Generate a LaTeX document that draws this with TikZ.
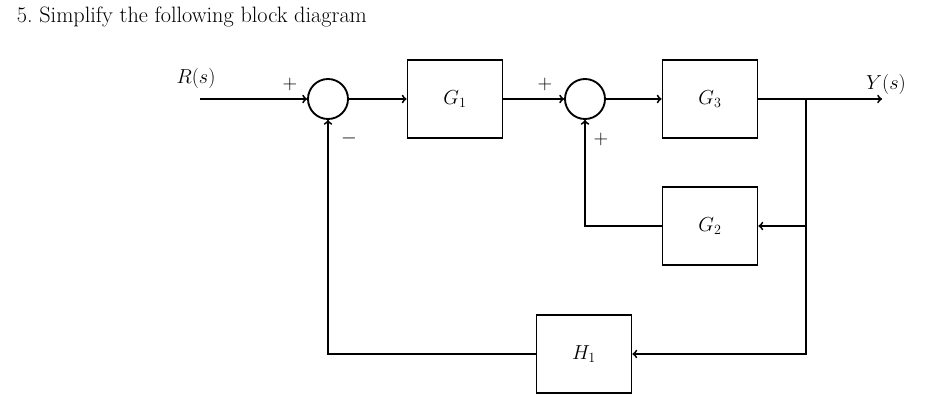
\documentclass[tikz,border=0pt]{standalone}
\usepackage{tikz}
\usetikzlibrary{positioning}

\begin{document}
\begin{tikzpicture}[x=0.03cm, y=-0.03cm, line width=1.6pt, >=to,
    block/.style = {rectangle, draw, minimum width=2.85cm, minimum height=2.34cm, font=\fontsize{18}{20}\selectfont},
    summer/.style = {circle, draw, minimum size=1.2cm, inner sep=0pt},
    sign/.style = {font=\fontsize{18}{20}\selectfont}]
  \useasboundingbox (0,0) rectangle (950,408);
  \node [anchor=west, font=\fontsize{19}{22}\selectfont] at (12,17) (title) {5.\ Simplify the following block diagram};

  % Blocks.
  \node at (328, 99) [summer, name=SumOne] {};
  \node at (455, 99) [block, name=GOne] {$G_1$};
  \node at (585, 99) [summer, name=SumTwo] {};
  \node at (710, 99) [block, name=GThree] {$G_3$};
  \node at (710, 226) [block, name=GTwo] {$G_2$};
  \node at (584, 354) [block, name=HOne] {$H_1$};

  % Input, output and branch points.
  \coordinate (input) at (200, 99);
  \coordinate (output) at (882, 99);
  \coordinate (branch) at (806, 99);
  \node at (196, 78) [sign, name=InLabel] {$R(s)$};
  \node at (886, 84) [sign, name=OutLabel] {$Y(s)$};

  % Forward path.
  \draw [->] (input) to (SumOne.west);
  \draw [->] (SumOne.east) to (GOne.west);
  \draw [->] (GOne.east) to (SumTwo.west);
  \draw [->] (SumTwo.east) to (GThree.west);
  \draw [->] (GThree.east) to (output);

  % Feedback paths.
  \draw [->] (branch) |- (GTwo.east);
  \draw [->] (GTwo.west) -| (SumTwo.south);
  \draw [->] (branch) |- (HOne.east);
  \draw [->] (HOne.west) -| (SumOne.south);

  % Signs.
  \node at (290, 84) [sign, name=SignA] {$+$};
  \node at (349, 138) [sign, name=SignB] {$-$};
  \node at (545, 84) [sign, name=SignC] {$+$};
  \node at (601, 139) [sign, name=SignD] {$+$};
\end{tikzpicture}
\end{document}
